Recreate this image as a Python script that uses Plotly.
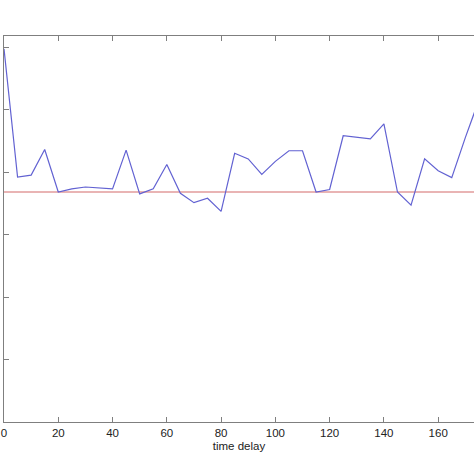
import plotly.graph_objects as go

lags = [0, 5, 10, 15, 20, 25, 30, 35, 40, 45, 50, 55, 60, 65, 70, 75, 80, 85,
        90, 95, 100, 105, 110, 115, 120, 125, 130, 135, 140, 145, 150, 155,
        160, 165, 170, 175]
values = [5.97, 3.92, 3.95, 4.36, 3.68, 3.73, 3.76, 3.74, 3.73, 4.35, 3.65, 3.73,
          4.12, 3.66, 3.51, 3.58, 3.37, 4.30, 4.21, 3.96, 4.17, 4.34, 4.34, 3.68,
          3.72, 4.58, 4.56, 4.53, 4.77, 3.68, 3.47, 4.21, 4.02, 3.91, 4.55, 5.15]
threshold = 3.68
x_range = [0, 173.2]
y_range = [0, 6.176]
x_ticks = [0, 20, 40, 60, 80, 100, 120, 140, 160]
y_ticks = [0, 1, 2, 3, 4, 5, 6]

fig = go.Figure()
fig.add_trace(go.Scatter(x=x_range, y=[threshold, threshold], mode="lines",
                         line=dict(color="#d46a6a", width=1.2), hoverinfo="skip"))
fig.add_trace(go.Scatter(x=lags, y=values, mode="lines",
                         line=dict(color="#6262d2", width=1.2)))

axis_color = "#7f7f7f"
fig.update_layout(
    width=474, height=474,
    margin=dict(l=4, r=0, t=36, b=52, autoexpand=False),
    paper_bgcolor="white", plot_bgcolor="white",
    showlegend=False,
    font=dict(family="Liberation Sans, Arial, sans-serif", size=11.5, color="#222222"),
    xaxis=dict(range=x_range, tickvals=x_ticks, ticks="inside", ticklen=5,
               tickcolor=axis_color, showline=True, linecolor=axis_color, linewidth=1.3,
               mirror="ticks", showgrid=False, zeroline=False, automargin=False,
               tickfont=dict(size=11.5),
               title=dict(text="time delay", standoff=3, font=dict(size=11.5))),
    yaxis=dict(range=y_range, tickvals=y_ticks, ticks="inside", ticklen=5,
               tickcolor=axis_color, showline=True, linecolor=axis_color, linewidth=1.3,
               showticklabels=False, showgrid=False, zeroline=False, mirror=False,
               automargin=False),
)
fig.write_html("out.html", config={"displayModeBar": False},
               post_script="document.body.style.margin='0';document.body.style.overflow='hidden';")
